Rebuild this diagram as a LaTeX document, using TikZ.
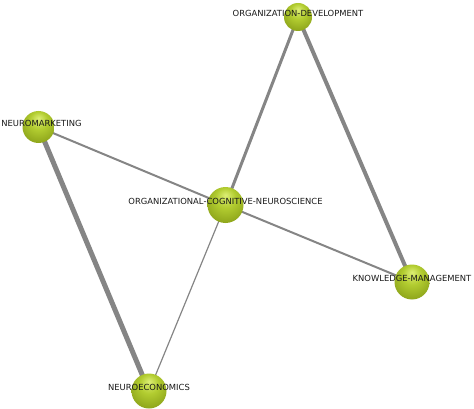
\documentclass[tikz,border=0pt]{standalone}
\usepackage{fontspec}
\setmainfont{DejaVu Sans}
\usetikzlibrary{positioning}
\definecolor{ballhi}{HTML}{DCEE74}
\definecolor{ballmid}{HTML}{B2CC30}
\definecolor{balldark}{HTML}{829814}
\definecolor{balledge}{HTML}{5E700C}
\definecolor{linkgray}{HTML}{858585}
\pgfdeclareradialshading{topicball}{\pgfpoint{0bp}{14bp}}{%
  color(0bp)=(ballhi); color(14bp)=(ballmid); color(36bp)=(balldark);
  color(50bp)=(balledge)}
\pgfdeclarelayer{bg}
\pgfsetlayers{bg,main}
\tikzset{
  topic/.style = {circle, inner sep=0pt, minimum size=#1, shading=topicball},
  tag/.style   = {font=\fontsize{8.4}{9}\selectfont, text=black!90, inner sep=0pt, yshift=3.5pt},
  link/.style  = {draw=linkgray, line cap=round},
}
\begin{document}
\begin{tikzpicture}[x=1pt, y=-1pt]
  \useasboundingbox (0,0) rectangle (474,409);

  % topics
  \node[topic=28pt, label={[tag]center:ORGANIZATION-DEVELOPMENT}] (od) at (298,17) {};
  \node[topic=32pt, label={[tag, xshift=3pt]center:NEUROMARKETING}] (nm) at (38.5,127) {};
  \node[topic=36pt, label={[tag]center:ORGANIZATIONAL-COGNITIVE-NEUROSCIENCE}] (ocn) at (225.5,205) {};
  \node[topic=35pt, label={[tag]center:KNOWLEDGE-MANAGEMENT}] (km) at (412,282) {};
  \node[topic=35pt, label={[tag]center:NEUROECONOMICS}] (ne) at (149,391) {};

  % links
  \begin{pgfonlayer}{bg}
    \draw[link, line width=5pt]   (nm.center) -- (ne.center);
    \draw[link, line width=4pt]   (od.center) -- (km.center);
    \draw[link, line width=3pt]   (od.center) -- (ocn.center);
    \draw[link, line width=2pt]   (nm.center) -- (ocn.center);
    \draw[link, line width=2pt]   (ocn.center) -- (km.center);
    \draw[link, line width=1.2pt] (ocn.center) -- (ne.center);
  \end{pgfonlayer}
\end{tikzpicture}
\end{document}
